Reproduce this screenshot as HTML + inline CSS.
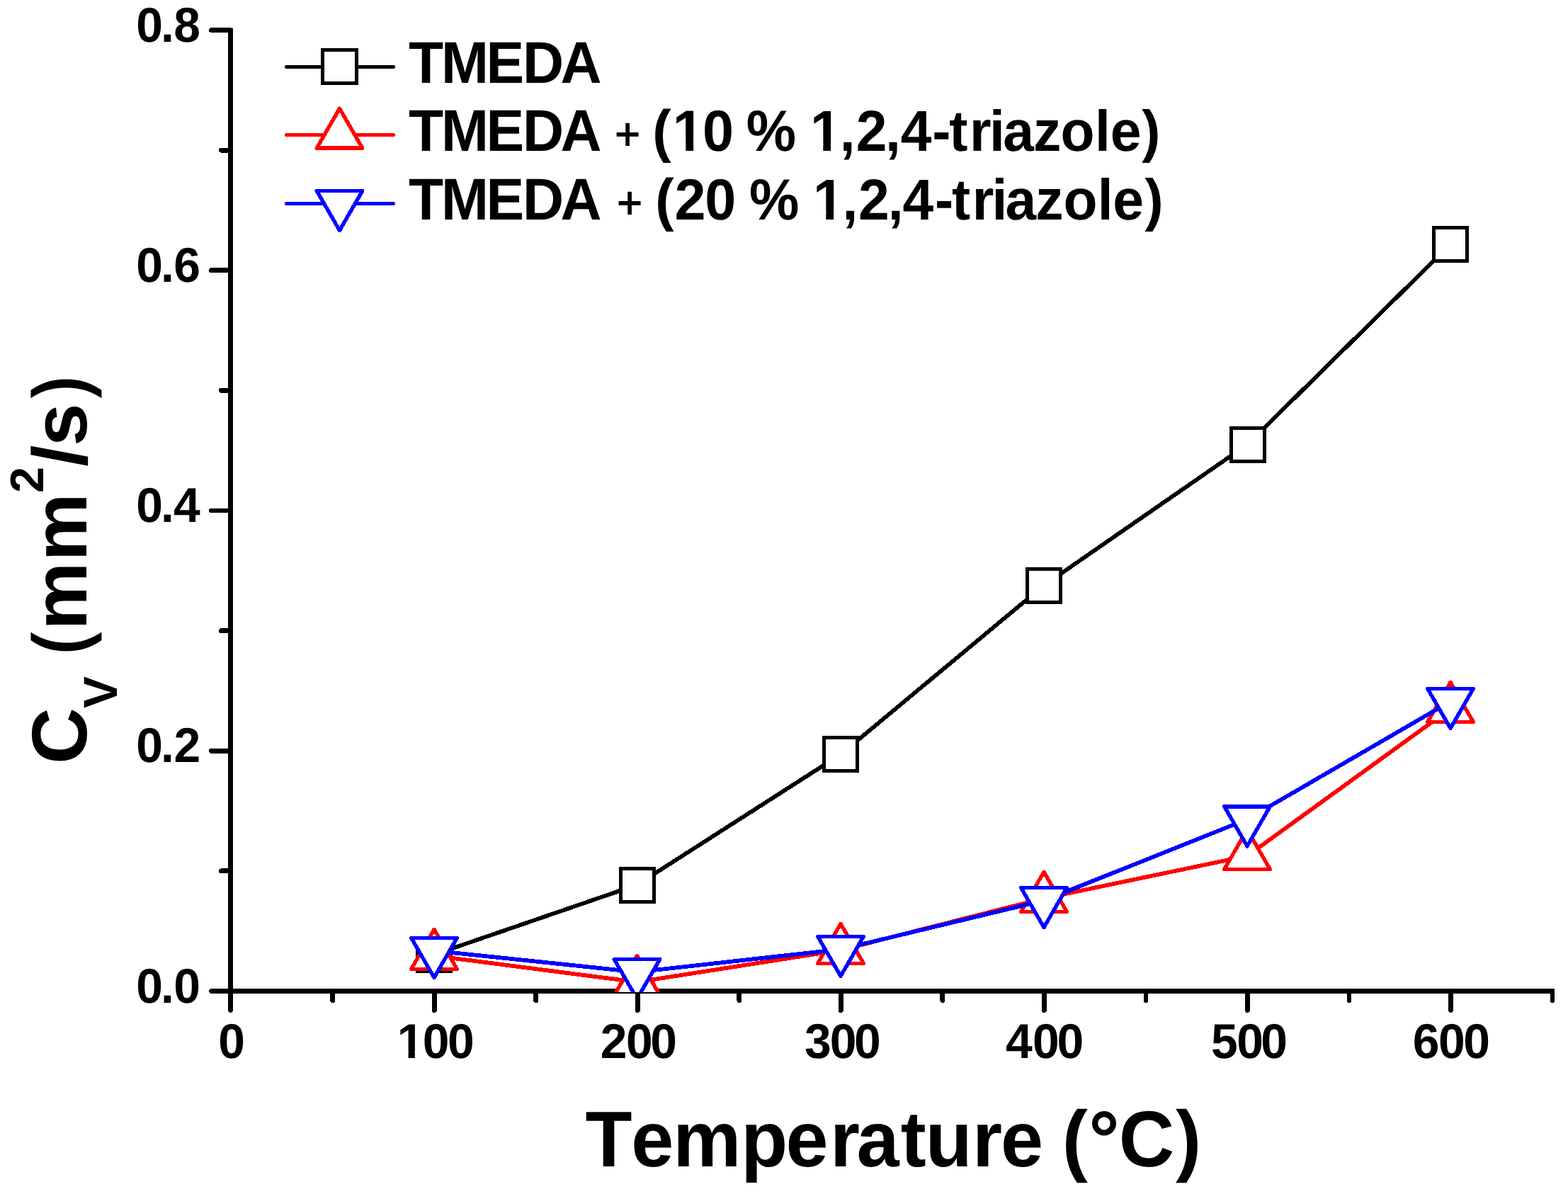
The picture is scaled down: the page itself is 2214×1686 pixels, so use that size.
<!DOCTYPE html>
<html lang="en">
<head>
<meta charset="utf-8">
<title>Cv vs Temperature</title>
<style>
html,body{margin:0;padding:0;background:#fff;}
body{width:2214px;height:1686px;overflow:hidden;}
svg{display:block;}
text{white-space:pre;}
</style>
</head>
<body>
<svg width="2214" height="1686" viewBox="0 0 2214 1686" text-rendering="geometricPrecision" shape-rendering="crispEdges">
<rect width="2214" height="1686" fill="#fff"/>
<g id="axes" stroke="#000" stroke-linecap="round" fill="none">
<path d="M325.5 39.6 V1399.5" stroke-width="6.8" stroke-linecap="butt"/>
<path d="M322.1 1399.5 H2195.2" stroke-width="6.8" stroke-linecap="butt"/>
<path d="M298.4 1399.5 H325.5M298.4 1060.26 H325.5M298.4 721.02 H325.5M298.4 381.78 H325.5M298.4 42.54 H325.5M312.4 1229.88 H325.5M312.4 890.64 H325.5M312.4 551.4 H325.5M312.4 212.16 H325.5M325.5 1399.5 V1426.6M613.25 1399.5 V1426.6M900.3 1399.5 V1426.6M1187.35 1399.5 V1426.6M1474.4 1399.5 V1426.6M1761.45 1399.5 V1426.6M2048.5 1399.5 V1426.6M469.72 1399.5 V1412.6M756.77 1399.5 V1412.6M1043.83 1399.5 V1412.6M1330.88 1399.5 V1412.6M1617.92 1399.5 V1412.6M1904.97 1399.5 V1412.6M2192.02 1399.5 V1412.6" stroke-width="6.8"/>
</g>
<clipPath id="plot"><rect x="0" y="0" width="2214" height="1401"/></clipPath>
<g id="data" clip-path="url(#plot)" stroke-width="5" stroke-linejoin="round" stroke-linecap="round" fill="#fff">
<g stroke="#000" stroke-linejoin="miter">
<polyline points="613,1348 899.5,1249.5 1187,1065.3 1473.5,827 1761.5,627.5 2048,345" fill="none" stroke-width="5.8"/>
<rect x="589.5" y="1324.5" width="47" height="47"/>
<rect x="876" y="1226" width="47" height="47"/>
<rect x="1163.5" y="1041.8" width="47" height="47"/>
<rect x="1450" y="803.5" width="47" height="47"/>
<rect x="1738" y="604" width="47" height="47"/>
<rect x="2024.5" y="321.5" width="47" height="47"/>
</g>
<g stroke="#f00">
<polyline points="613,1349.6 899.5,1386.7 1187,1341.6 1474,1268.5 1761,1208.7 2048,1000.7" fill="none" stroke-width="5.8"/>
<path stroke-width="5.4" d="M580.75 1368.3L645.25 1368.3L613 1312.4Z"/>
<path stroke-width="5.4" d="M867.25 1405.4L931.75 1405.4L899.5 1349.5Z"/>
<path stroke-width="5.4" d="M1154.75 1360.3L1219.25 1360.3L1187 1304.4Z"/>
<path stroke-width="5.4" d="M1441.75 1287.2L1506.25 1287.2L1474 1231.3Z"/>
<path stroke-width="5.4" d="M1728.75 1227.4L1793.25 1227.4L1761 1171.5Z"/>
<path stroke-width="5.4" d="M2015.75 1019.4L2080.25 1019.4L2048 963.5Z"/>
</g>
<g stroke="#00f">
<polyline points="613,1342.5 899.5,1372.6 1187,1340.5 1474,1271.6 1761,1156.9 2048,990.5" fill="none" stroke-width="5.8"/>
<path stroke-width="5.4" d="M580.75 1324.5L645.25 1324.5L613 1380.4Z"/>
<path stroke-width="5.4" d="M867.25 1354.6L931.75 1354.6L899.5 1410.5Z"/>
<path stroke-width="5.4" d="M1154.75 1322.5L1219.25 1322.5L1187 1378.4Z"/>
<path stroke-width="5.4" d="M1441.75 1253.6L1506.25 1253.6L1474 1309.5Z"/>
<path stroke-width="5.4" d="M1728.75 1138.9L1793.25 1138.9L1761 1194.8Z"/>
<path stroke-width="5.4" d="M2015.75 972.5L2080.25 972.5L2048 1028.4Z"/>
</g>
</g>
<g id="legend" stroke-width="5" stroke-linejoin="round" stroke-linecap="round" fill="#fff">
<g stroke="#000" stroke-linejoin="miter"><path d="M404.3 94.5H555.6"/><rect x="455.4" y="70.6" width="48.2" height="47"/></g>
<g stroke="#f00"><path d="M404.3 190.45H555.6"/><path stroke-width="5.4" d="M447.25 209.15L511.75 209.15L479.5 153.25Z"/></g>
<g stroke="#00f"><path d="M404.3 287.5H555.6"/><path stroke-width="5.4" d="M447.25 269.5L511.75 269.5L479.5 325.4Z"/></g>
</g>
<g id="labels" font-family="'Liberation Sans', Arial, Helvetica, sans-serif" font-weight="bold" fill="#000">
<text transform="translate(192.24 1415.6) scale(0.98 1)" x="0 35.53 54.13" y="0" font-size="69.2">0.0</text>
<text transform="translate(192.24 1076.36) scale(0.98 1)" x="0 35.53 54.27" y="0" font-size="69.2">0.2</text>
<text transform="translate(192.24 737.12) scale(0.98 1)" x="0 35.53 53.74" y="0" font-size="69.2">0.4</text>
<text transform="translate(192.24 397.88) scale(0.98 1)" x="0 35.53 54.07" y="0" font-size="69.2">0.6</text>
<text transform="translate(192.24 58.64) scale(0.98 1)" x="0 35.53 54.05" y="0" font-size="69.2">0.8</text>
<text transform="translate(308.19 1494.2) scale(0.98 1)" x="0" y="0" font-size="69.2">0</text>
<text transform="translate(560.67 1494.2) scale(0.98 1)" x="0 36.71 72.78" y="0" font-size="69.2">100</text>
<text transform="translate(847.67 1494.2) scale(0.98 1)" x="0 37.01 71.91" y="0" font-size="69.2">200</text>
<text transform="translate(1135.94 1494.2) scale(0.98 1)" x="0 36.43 71.58" y="0" font-size="69.2">300</text>
<text transform="translate(1419.96 1494.2) scale(0.98 1)" x="0 38.76 74.01" y="0" font-size="69.2">400</text>
<text transform="translate(1710.09 1494.2) scale(0.98 1)" x="0 36.84 71.48" y="0" font-size="69.2">500</text>
<text transform="translate(1994.78 1494.2) scale(0.98 1)" x="0 36.9 73.03" y="0" font-size="69.2">600</text>
<text transform="translate(577.03 117) scale(0.965 1)" x="0 47.55 113.36 166.83 222.34" y="0" font-size="83.3">TMEDA</text>
<text transform="translate(577.03 213.2) scale(0.965 1)"><tspan x="0 47.55 113.36 166.83 222.34 282.49" y="0" font-size="83.3">TMEDA </tspan><tspan x="301.73 338.76" y="-2" font-size="63.4" font-weight="normal" stroke="#000" stroke-width="1.3">+ </tspan><tspan x="356.75 386.32 430.13 475.73" y="0" font-size="82">(10 </tspan><tspan x="494.04 566.95" y="0" font-size="82">% </tspan><tspan x="587.47 630.78 654.57 697.36 719.91 765.97 790.91 820.8 849.62 869.79 913.94 953.94 1004.08 1026.54 1072.79" y="0" font-size="81.5">1,2,4-triazole)</tspan></text>
<text transform="translate(577.03 310.3) scale(0.965 1)"><tspan x="0 47.55 113.36 166.83 222.34 282.49" y="0" font-size="83.3">TMEDA </tspan><tspan x="305 342.02" y="-2" font-size="63.4" font-weight="normal" stroke="#000" stroke-width="1.3">+ </tspan><tspan x="360.84 389.1 433.34 478.95" y="0" font-size="82">(20 </tspan><tspan x="498.44 571.36" y="0" font-size="82">% </tspan><tspan x="591.62 634.57 657.99 701.3 722.87 770.01 794.74 824.53 853.45 872.95 917.26 958.03 1007.91 1030.42 1077.25" y="0" font-size="81.5">1,2,4-triazole)</tspan></text>
<text transform="translate(826.47 1646.9) scale(0.97 1)"><tspan x="0 66.82 127.66 226.48 291.72 356.3 395.01 459.01 495.09 563.52 604.61 666.56" y="0" font-size="111.4">Temperature </tspan><tspan x="694.01 732.89 776.66 859.37" y="0" font-size="112">(°C)</tspan></text>
<text transform="translate(121.9 1079.11) rotate(-90) scale(1.0 1)"><tspan x="0" y="0" font-size="110.5">C</tspan><tspan x="79.11" y="43.1" font-size="67.3">V</tspan><tspan x="124 152.51" y="0" font-size="110.5" stroke="#fff" stroke-width="3"> (</tspan><tspan x="189.7 286.9" y="0" font-size="107.5">mm</tspan><tspan x="383.19" y="-61.2" font-size="66.5">2</tspan><tspan x="420.28 449.1" y="0" font-size="108.5">/s</tspan><tspan x="513.75" y="0" font-size="110.5" stroke="#fff" stroke-width="3">)</tspan></text>
</g>
<g id="trim" fill="#fff" shape-rendering="geometricPrecision"><rect x="563.98" y="1484.86" width="12.52" height="10.34"/><rect x="585.8" y="1484.86" width="11.62" height="10.34"/><rect x="953.7" y="202.13" width="14.61" height="12.07"/><rect x="979.16" y="202.13" width="13.56" height="12.07"/><rect x="1147.78" y="202.2" width="14.52" height="12"/><rect x="1173.09" y="202.2" width="13.48" height="12"/><rect x="1151.78" y="299.3" width="14.52" height="12"/><rect x="1177.09" y="299.3" width="13.48" height="12"/></g>
</svg>
</body>
</html>
